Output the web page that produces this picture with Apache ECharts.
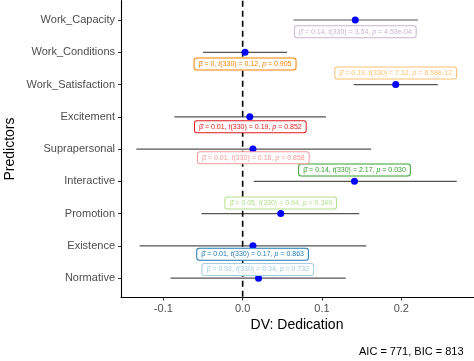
<!DOCTYPE html>
<html>
<head>
<meta charset="utf-8">
<script src="https://cdn.jsdelivr.net/npm/echarts@6/dist/echarts.min.js"></script>
<style>html,body{margin:0;padding:0;background:#fff}#c{width:474px;height:361px}</style>
</head>
<body>
<div id="c"></div>
<script>
// Predictors, bottom (row 1) to top (row 9)
var predictors = ['Normative','Existence','Promotion','Interactive','Suprapersonal','Excitement','Work_Satisfaction','Work_Conditions','Work_Capacity'];
var estimates  = [0.020, 0.013, 0.048, 0.141, 0.013, 0.009, 0.193, 0.003, 0.142];
var ciLow      = [-0.091, -0.130, -0.052, 0.014, -0.134, -0.086, 0.140, -0.050, 0.064];
var ciHigh     = [0.130, 0.156, 0.147, 0.270, 0.162, 0.105, 0.246, 0.056, 0.221];
var betaText   = ['0.02','0.01','0.05','0.14','0.01','0.01','0.19','0','0.14'];
var tText      = ['0.34','0.17','0.94','2.17','0.18','0.19','7.12','0.12','3.54'];
var pText      = ['0.732','0.863','0.349','0.030','0.858','0.852','6.58e-12','0.905','4.53e-04'];
var dfText     = '330';
var xTicks     = [-0.1, 0, 0.1, 0.2];
var refLine    = [0];
var caption    = 'AIC = 771, BIC = 813';
// label layout (repelled label centres, in axis units) - layout only
var labelX     = [0.019, 0.0125, 0.048, 0.141, 0.0135, 0.0097, 0.193, 0.003, 0.142];
var labelY     = [1.27, 1.74, 3.33, 4.35, 4.73, 5.69, 7.36, 7.64, 8.64];
var palette    = ['#A6CEE3','#1F78B4','#B2DF8A','#33A02C','#FB9A99','#E31A1C','#FDBF6F','#FF7F00','#CAB2D6'];

var chart = echarts.init(document.getElementById('c'), null, {renderer:'canvas'});
var rows = predictors.map(function(_, i){ return i + 1; });
var yMin = 0.4, yMax = 9.6;

var barData = rows.map(function(r, i){ return [ciLow[i], ciHigh[i], r]; });
var ptData = rows.map(function(r, i){ return [estimates[i], r]; });
var lblData = rows.map(function(r, i){ return [labelX[i], labelY[i], i]; });

chart.setOption({
  animation: false,
  grid: { left: 121, right: 0, top: 0.65, bottom: 63.5, containLabel: false },
  xAxis: {
    type: 'value', min: -0.1534, max: 0.2917,
    splitLine: { show: false },
    axisLine: { show: true, onZero: false, lineStyle: { color: '#000', width: 1.1 } },
    axisTick: { show: true, length: 3, customValues: xTicks, lineStyle: { color: '#333' } },
    axisLabel: { customValues: xTicks, color: '#4d4d4d', fontSize: 11, fontFamily: 'Liberation Sans', margin: 6,
      formatter: function(v){ return v.toFixed(1); } }
  },
  yAxis: {
    type: 'value', min: yMin, max: yMax,
    splitLine: { show: false },
    axisLine: { show: true, onZero: false, lineStyle: { color: '#000', width: 1.1 } },
    axisTick: { show: true, length: 3, customValues: rows, lineStyle: { color: '#333' } },
    axisLabel: { customValues: rows, color: '#4d4d4d', fontSize: 11, fontFamily: 'Liberation Sans', margin: 6,
      formatter: function(v){ return predictors[Math.round(v) - 1]; } }
  },
  series: [
    {
      type: 'custom', z: 2,
      data: barData,
      renderItem: function(params, api){
        var a = api.coord([api.value(0), api.value(2)]);
        var b = api.coord([api.value(1), api.value(2)]);
        return { type: 'line', shape: { x1: a[0], y1: a[1], x2: b[0], y2: b[1] },
                 style: { stroke: '#555', lineWidth: 1.2 } };
      }
    },
    {
      type: 'custom', z: 2, silent: true,
      data: refLine.map(function(v){ return [v]; }),
      renderItem: function(params, api){
        var a = api.coord([api.value(0), yMax]);
        var b = api.coord([api.value(0), yMin]);
        return { type: 'line', shape: { x1: a[0], y1: a[1], x2: b[0], y2: b[1] },
                 style: { stroke: '#000', lineWidth: 1.6, lineDash: [6, 4] } };
      }
    },
    {
      type: 'scatter', z: 3, data: ptData, symbol: 'circle', symbolSize: 7,
      itemStyle: { color: '#0000ff', opacity: 1 }
    },
    {
      type: 'custom', z: 10, silent: true, data: lblData,
      renderItem: function(params, api){
        var i = api.value(2);
        var c = palette[i];
        var p = api.coord([api.value(0), api.value(1)]);
        return {
          type: 'text', x: p[0], y: p[1], z2: 10,
          style: {
            text: '\u03B2\u0302 = ' + betaText[i] + ', {i|t}(' + dfText + ') = ' + tText[i] + ', {i|p} = ' + pText[i],
            rich: { i: { fontStyle: 'italic', fill: c, fontSize: 7, fontFamily: 'Liberation Sans' } },
            fill: c, fontSize: 7, fontFamily: 'Liberation Sans',
            align: 'center', verticalAlign: 'middle',
            backgroundColor: '#fff', borderColor: c, borderWidth: 1, borderRadius: 2, padding: [2, 4, 2, 4]
          }
        };
      }
    }
  ],
  graphic: [
    { type: 'text', x: 297, y: 325, style: { text: 'DV: Dedication', fill: '#000', font: '14px "Liberation Sans"', align: 'center', verticalAlign: 'middle' } },
    { type: 'text', x: 10, y: 149, rotation: Math.PI / 2, style: { text: 'Predictors', fill: '#000', font: '14px "Liberation Sans"', align: 'center', verticalAlign: 'middle' } },
    { type: 'text', x: 359, y: 352, style: { text: caption, fill: '#000', font: '11px "Liberation Sans"', align: 'left', verticalAlign: 'middle' } }
  ]
});
</script>
</body>
</html>
